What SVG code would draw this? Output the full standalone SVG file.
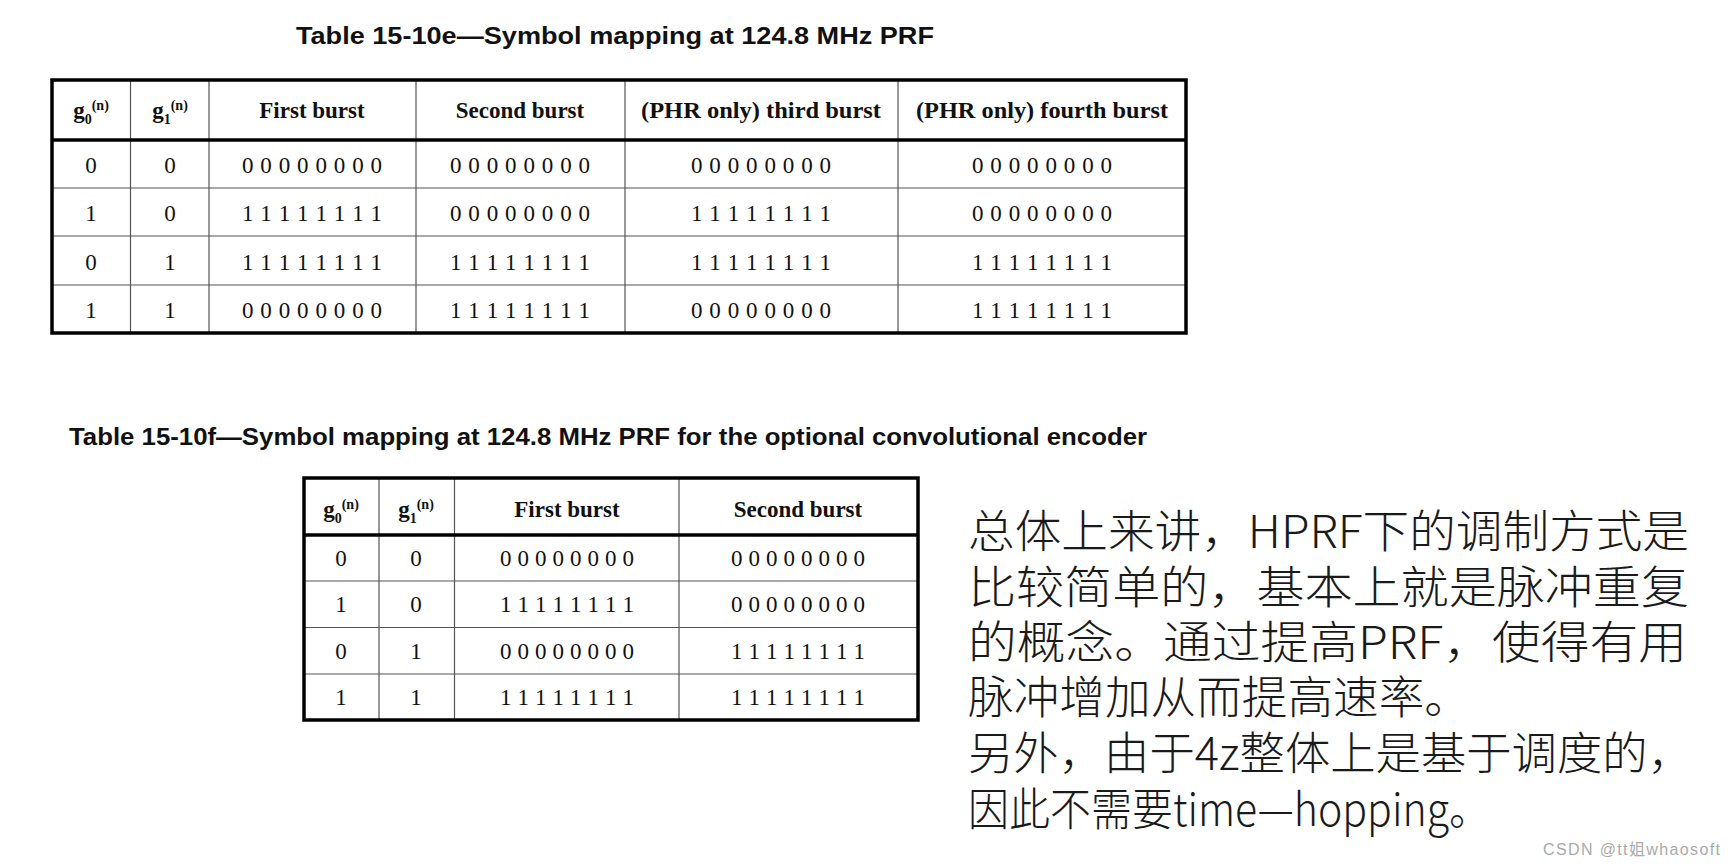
<svg xmlns="http://www.w3.org/2000/svg" width="1734" height="868" viewBox="0 0 1734 868">
<style>
.t{font-family:"Liberation Sans",Arial,sans-serif;font-weight:bold;font-size:24px;fill:#111}
.h{font-family:"Liberation Serif","Times New Roman",serif;font-weight:bold;font-size:23px;fill:#111;text-anchor:middle}
.d{font-family:"Liberation Serif","Times New Roman",serif;font-size:23px;fill:#111;text-anchor:middle}
.s{font-size:14px}
.thin{stroke:#555;stroke-width:1.2;fill:none}
.thick{stroke:#000;stroke-width:3.5;fill:none}
.cn{font-family:"Noto Sans CJK SC","Noto Sans",sans-serif;font-size:45px;fill:#1a1a1a;font-weight:300}
</style>
<rect width="1734" height="868" fill="#fff"/>
<g id="table1">
<text class="t" x="296" y="44" textLength="638" lengthAdjust="spacingAndGlyphs">Table 15-10e—Symbol mapping at 124.8 MHz PRF</text>
<g class="thin"><path d="M130.5 80V333M209 80V333M416 80V333M625 80V333M898 80V333M52 188H1186M52 236H1186M52 285H1186"/></g>
<rect class="thick" x="52" y="80" width="1134" height="253"/>
<path class="thick" d="M52 140H1186"/>
<text class="h" x="91" y="118">g<tspan class="s" dy="6">0</tspan><tspan class="s" dy="-14">(n)</tspan></text>
<text class="h" x="170" y="118">g<tspan class="s" dy="6">1</tspan><tspan class="s" dy="-14">(n)</tspan></text>
<text class="h" x="312" y="118">First burst</text>
<text class="h" x="520" y="118">Second burst</text>
<text class="h" x="761" y="118" textLength="240" lengthAdjust="spacingAndGlyphs">(PHR only) third burst</text>
<text class="h" x="1042" y="118" textLength="252" lengthAdjust="spacingAndGlyphs">(PHR only) fourth burst</text>
<g class="d">
<text x="91" y="173">0</text><text x="170" y="173">0</text><text x="312" y="173" textLength="140">00000000</text><text x="520" y="173" textLength="140">00000000</text><text x="761" y="173" textLength="140">00000000</text><text x="1042" y="173" textLength="140">00000000</text>
<text x="91" y="221">1</text><text x="170" y="221">0</text><text x="312" y="221" textLength="140">11111111</text><text x="520" y="221" textLength="140">00000000</text><text x="761" y="221" textLength="140">11111111</text><text x="1042" y="221" textLength="140">00000000</text>
<text x="91" y="270">0</text><text x="170" y="270">1</text><text x="312" y="270" textLength="140">11111111</text><text x="520" y="270" textLength="140">11111111</text><text x="761" y="270" textLength="140">11111111</text><text x="1042" y="270" textLength="140">11111111</text>
<text x="91" y="318">1</text><text x="170" y="318">1</text><text x="312" y="318" textLength="140">00000000</text><text x="520" y="318" textLength="140">11111111</text><text x="761" y="318" textLength="140">00000000</text><text x="1042" y="318" textLength="140">11111111</text>
</g>
</g>
<g id="table2">
<text class="t" x="69" y="445" textLength="1078" lengthAdjust="spacingAndGlyphs">Table 15-10f—Symbol mapping at 124.8 MHz PRF for the optional convolutional encoder</text>
<g class="thin"><path d="M379 478V720M454.5 478V720M679 478V720M304 581H918M304 627.5H918M304 674H918"/></g>
<rect class="thick" x="304" y="478" width="614" height="242"/>
<path class="thick" d="M304 535H918"/>
<text class="h" x="341" y="517">g<tspan class="s" dy="6">0</tspan><tspan class="s" dy="-14">(n)</tspan></text>
<text class="h" x="416" y="517">g<tspan class="s" dy="6">1</tspan><tspan class="s" dy="-14">(n)</tspan></text>
<text class="h" x="567" y="517">First burst</text>
<text class="h" x="798" y="517">Second burst</text>
<g class="d">
<text x="341" y="566">0</text><text x="416" y="566">0</text><text x="567" y="566" textLength="134">00000000</text><text x="798" y="566" textLength="134">00000000</text>
<text x="341" y="612">1</text><text x="416" y="612">0</text><text x="567" y="612" textLength="134">11111111</text><text x="798" y="612" textLength="134">00000000</text>
<text x="341" y="659">0</text><text x="416" y="659">1</text><text x="567" y="659" textLength="134">00000000</text><text x="798" y="659" textLength="134">11111111</text>
<text x="341" y="705">1</text><text x="416" y="705">1</text><text x="567" y="705" textLength="134">11111111</text><text x="798" y="705" textLength="134">11111111</text>
</g>
</g>
<g id="note" class="cn">
<text x="968" y="548" textLength="721" lengthAdjust="spacingAndGlyphs">总体上来讲，HPRF下的调制方式是</text>
<text x="968" y="604" textLength="721" lengthAdjust="spacingAndGlyphs">比较简单的，基本上就是脉冲重复</text>
<text x="968" y="659" textLength="719" lengthAdjust="spacingAndGlyphs">的概念。通过提高PRF，使得有用</text>
<text x="968" y="714" textLength="502" lengthAdjust="spacingAndGlyphs">脉冲增加从而提高速率。</text>
<text x="968" y="770" textLength="725" lengthAdjust="spacingAndGlyphs">另外，由于4z整体上是基于调度的，</text>
<text x="968" y="826" textLength="522" lengthAdjust="spacingAndGlyphs">因此不需要time—hopping。</text>
</g>
<text x="1543" y="855" font-family="Liberation Sans,Noto Sans CJK SC,sans-serif" font-size="16" fill="#aaa" textLength="177">CSDN @tt姐whaosoft</text>
</svg>
